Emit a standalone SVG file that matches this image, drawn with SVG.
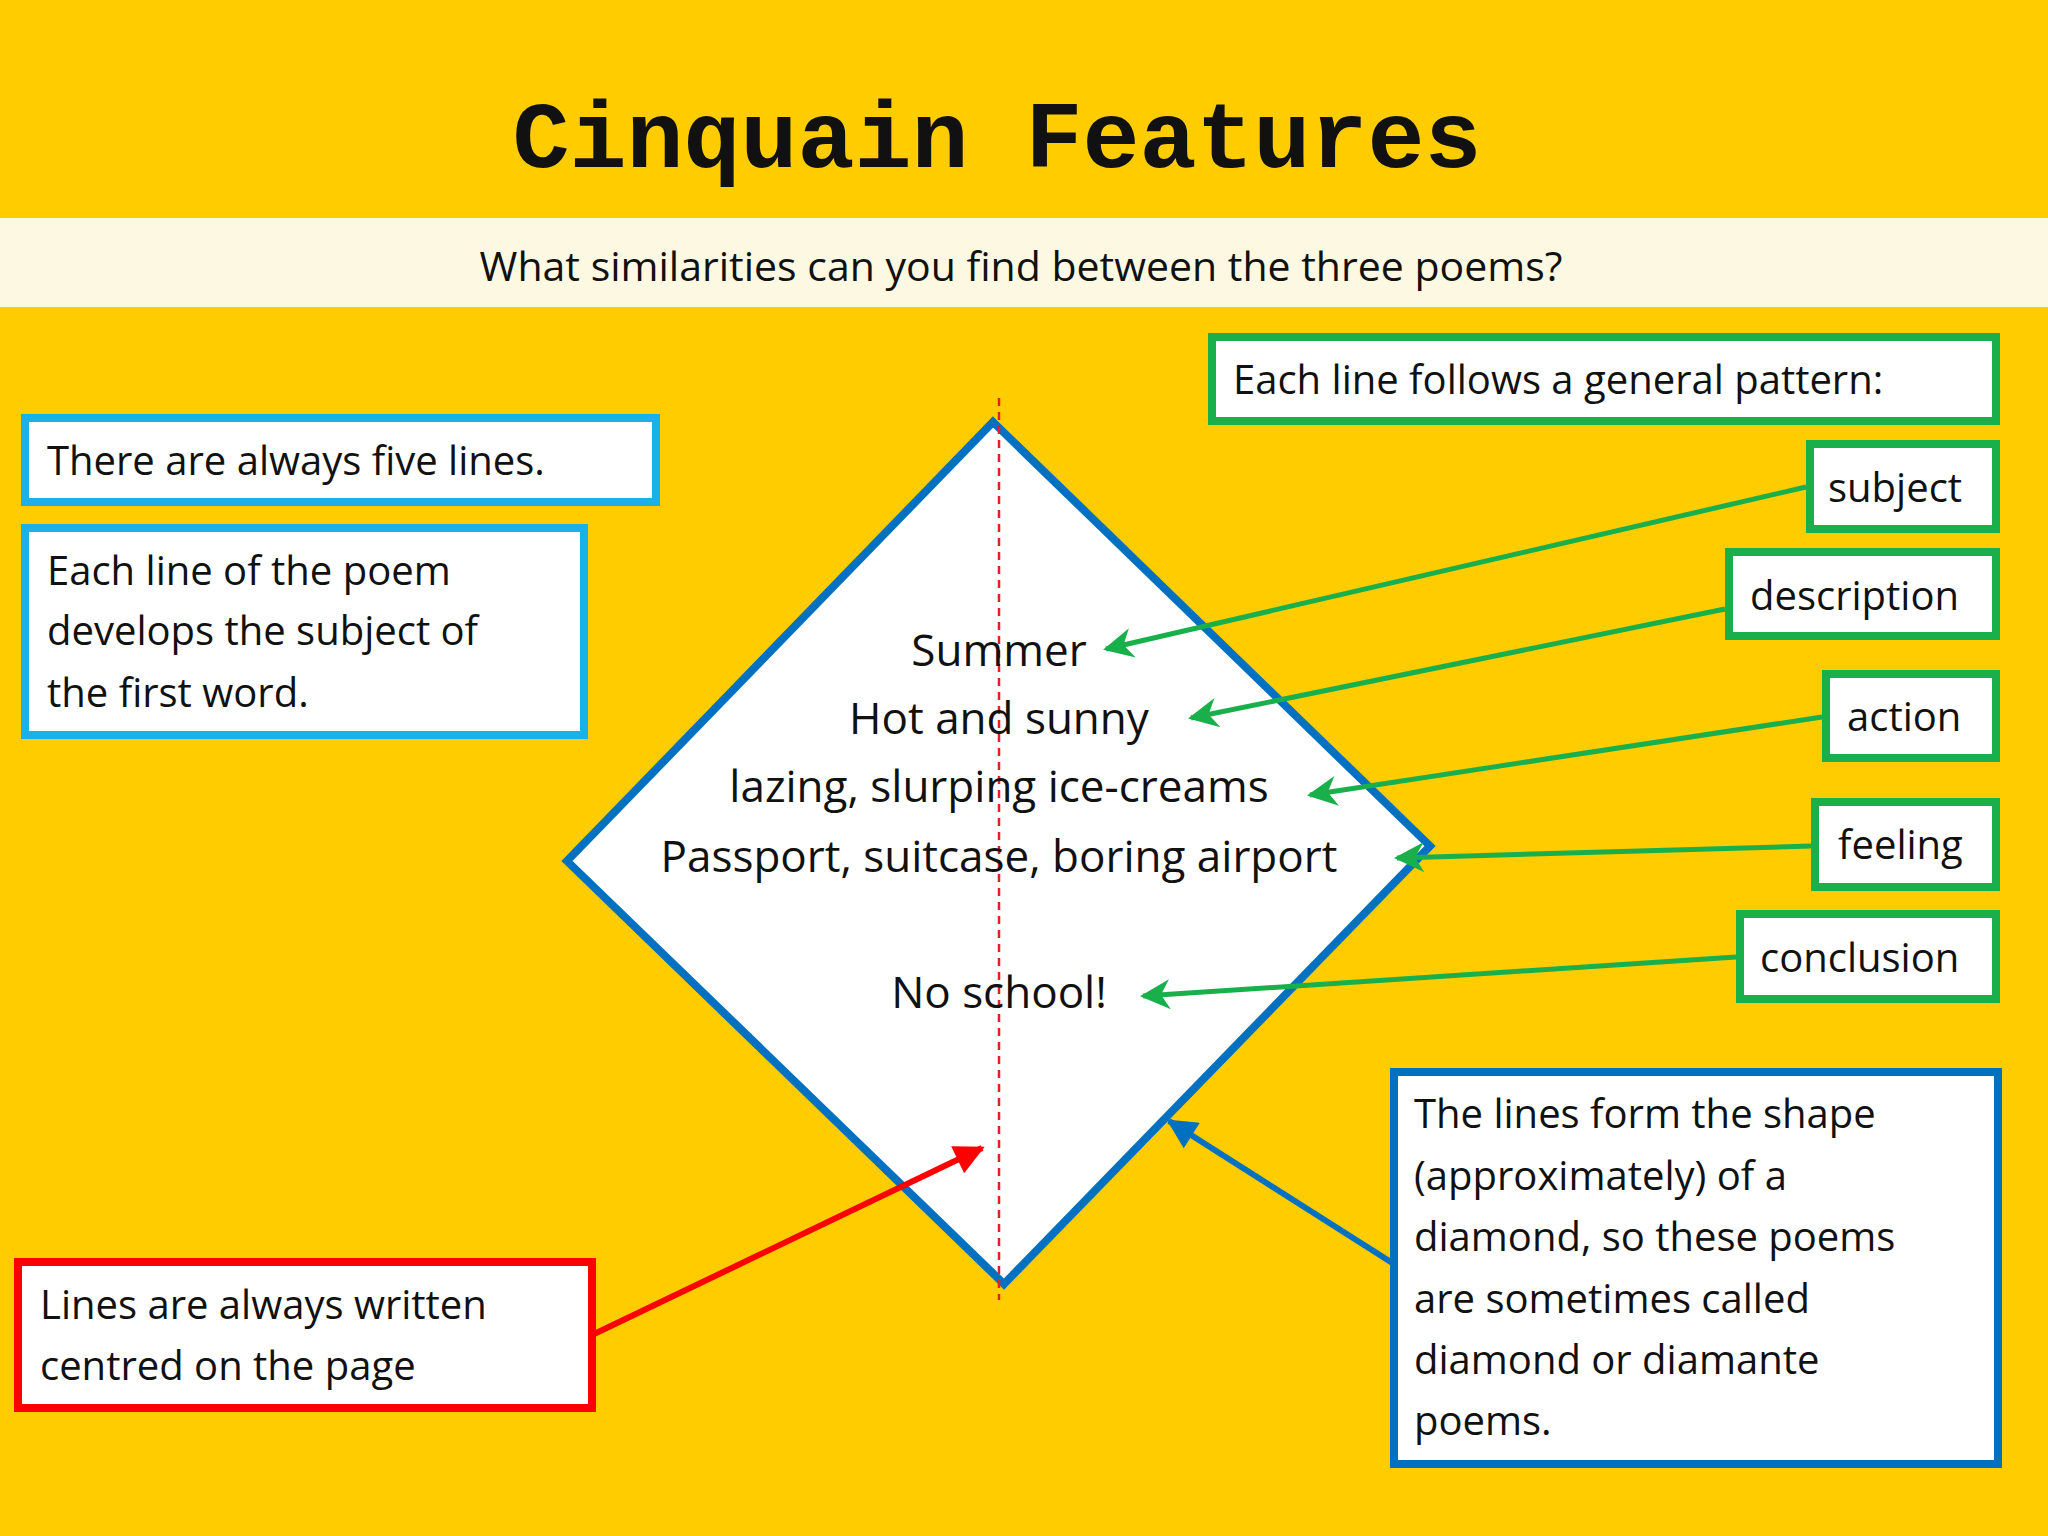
<svg xmlns="http://www.w3.org/2000/svg" width="2048" height="1536" viewBox="0 0 2048 1536">
<style>
.t{font-family:"Open Sans","Noto Sans",sans-serif;font-size:40px;fill:#111}
.p{font-family:"Open Sans","Noto Sans",sans-serif;font-size:44px;fill:#111;text-anchor:middle}
.bx{fill:#fff;stroke-width:8}
.g{stroke:#19b04b}.c{stroke:#1ab0e8}.r{stroke:#ff0000}.b{stroke:#0070c0}
.ga{stroke:#19b04b;stroke-width:5;fill:none;marker-end:url(#mg)}
</style>
<defs>
<marker id="mg" viewBox="0 0 10 10" refX="9" refY="5" markerWidth="7" markerHeight="6" orient="auto" markerUnits="strokeWidth"><path d="M0,0 L10,5 L0,10 L3,5 z" fill="#19b04b"/></marker>
<marker id="mr" viewBox="0 0 10 10" refX="9" refY="5" markerWidth="6" markerHeight="5" orient="auto" markerUnits="strokeWidth"><path d="M0,0 L10,5 L0,10 z" fill="#ff0000"/></marker>
<marker id="mb" viewBox="0 0 10 10" refX="9" refY="5" markerWidth="6" markerHeight="5" orient="auto" markerUnits="strokeWidth"><path d="M0,0 L10,5 L0,10 z" fill="#0070c0"/></marker>
</defs>
<rect width="2048" height="1536" fill="#ffcc00"/>
<text x="997" y="167" text-anchor="middle" style="font-family:'Liberation Mono',monospace;font-size:95px;font-weight:bold;fill:#111">Cinquain Features</text>
<rect x="0" y="218" width="2048" height="89" fill="#fdf8e1"/>
<text x="1021" y="281" text-anchor="middle" class="t" style="font-size:41px">What similarities can you find between the three poems?</text>
<g id="diamond">
<polygon points="993,422 1430,846 1004,1284 567,861" fill="#fff" stroke="#0070c0" stroke-width="8"/>
<line x1="999" y1="398" x2="999" y2="1300" stroke="#e52020" stroke-width="2.5" stroke-dasharray="8,6"/>
<text class="p" x="999" y="666">Summer</text>
<text class="p" x="999" y="734">Hot and sunny</text>
<text class="p" x="999" y="802">lazing, slurping ice-creams</text>
<text class="p" x="999" y="872">Passport, suitcase, boring airport</text>
<text class="p" x="999" y="1008">No school!</text>
</g>
<g id="five"><rect class="bx c" x="25" y="418" width="631" height="84"/><text class="t" x="47" y="475">There are always five lines.</text></g>
<g id="develops"><rect class="bx c" x="25" y="528" width="559" height="207"/><text class="t" x="47" y="585">Each line of the poem</text><text class="t" x="47" y="645">develops the subject of</text><text class="t" x="47" y="707">the first word.</text></g>
<g id="centred"><rect class="bx r" x="18" y="1262" width="574" height="146"/><text class="t" x="40" y="1319">Lines are always written</text><text class="t" x="40" y="1380">centred on the page</text></g>
<g id="shape"><rect class="bx b" x="1394" y="1072" width="604" height="392"/>
<text class="t" x="1414" y="1128">The lines form the shape</text><text class="t" x="1414" y="1190">(approximately) of a</text><text class="t" x="1414" y="1251">diamond, so these poems</text><text class="t" x="1414" y="1313">are sometimes called</text><text class="t" x="1414" y="1374">diamond or diamante</text><text class="t" x="1414" y="1435">poems.</text></g>
<g id="pattern"><rect class="bx g" x="1212" y="337" width="784" height="84"/><text class="t" x="1233" y="394">Each line follows a general pattern:</text></g>
<g id="subject"><rect class="bx g" x="1810" y="444" width="186" height="85"/><text class="t" x="1828" y="502">subject</text></g>
<g id="description"><rect class="bx g" x="1729" y="552" width="267" height="84"/><text class="t" x="1750" y="610">description</text></g>
<g id="action"><rect class="bx g" x="1826" y="674" width="170" height="84"/><text class="t" x="1847" y="731">action</text></g>
<g id="feeling"><rect class="bx g" x="1815" y="802" width="181" height="85"/><text class="t" x="1838" y="859">feeling</text></g>
<g id="conclusion"><rect class="bx g" x="1740" y="914" width="256" height="85"/><text class="t" x="1760" y="972">conclusion</text></g>
<g id="connectors">
<line class="ga" x1="1806" y1="487" x2="1106" y2="649"/>
<line class="ga" x1="1725" y1="609" x2="1191" y2="718"/>
<line class="ga" x1="1822" y1="717" x2="1310" y2="795"/>
<line class="ga" x1="1811" y1="846" x2="1397" y2="858"/>
<line class="ga" x1="1736" y1="957" x2="1143" y2="996"/>
<line x1="592" y1="1335" x2="982" y2="1148" stroke="#ff0000" stroke-width="6" marker-end="url(#mr)"/>
<line x1="1394" y1="1264" x2="1169" y2="1121" stroke="#0070c0" stroke-width="6" marker-end="url(#mb)"/>
</g>
</svg>
